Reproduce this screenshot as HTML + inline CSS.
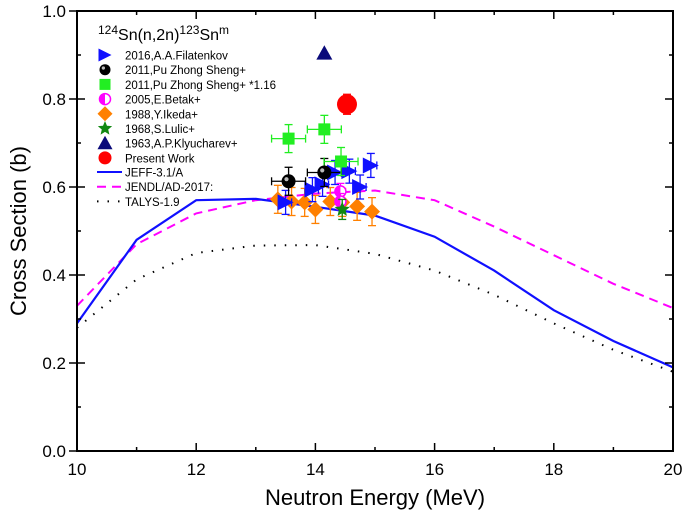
<!DOCTYPE html>
<html><head><meta charset="utf-8"><style>
html,body{margin:0;padding:0;background:#fff;}
svg{display:block;font-family:"Liberation Sans",Arial,sans-serif;}
</style></head><body>
<svg id="chart" width="685" height="517" viewBox="0 0 685 517"></svg>
<script>
const xTicks=[10,12,14,16,18,20];
const xMinor=[11,13,15,17,19];
const yTicks=[0.0,0.2,0.4,0.6,0.8,1.0];
const yMinor=[0.1,0.3,0.5,0.7,0.9];
const curveE=[10,11,12,13,14,15,16,17,18,19,20];
const jeffV=[0.29,0.48,0.57,0.573,0.555,0.535,0.487,0.41,0.32,0.25,0.19];
const jendlV=[0.33,0.47,0.54,0.57,0.585,0.592,0.57,0.51,0.445,0.38,0.325];
const talysV=[0.28,0.39,0.45,0.467,0.468,0.448,0.41,0.355,0.29,0.23,0.18];
const filE=[14.93,14.57,14.33,14.75,14.12,13.95,13.5];
const filV=[0.649,0.636,0.633,0.6,0.606,0.594,0.565];
const puE=[13.55,14.15];
const puV=[0.613,0.633];
const pu116E=[13.55,14.15,14.43];
const pu116V=[0.71,0.731,0.658];
const betE=[14.42,14.42];
const betV=[0.59,0.567];
const ikE=[13.37,13.6,13.82,14.0,14.25,14.45,14.7,14.95];
const ikV=[0.572,0.567,0.565,0.549,0.567,0.565,0.556,0.544];
const luE=[14.45];
const luV=[0.549];
const klE=[14.15];
const klV=[0.904];
const prE=[14.53];
const prV=[0.788];

const L=77,R=673,T=11,B=451;
const sx=e=>L+(e-10)/10*(R-L);
const sy=v=>B-v*(B-T);
const svg=document.getElementById('chart');
const NS='http://www.w3.org/2000/svg';
function mk(tag,attrs,parent){const el=document.createElementNS(NS,tag);for(const k in attrs)el.setAttribute(k,attrs[k]);(parent||svg).appendChild(el);return el;}

function curve(vals,color,dash,w,name){
  const p=mk('polyline',{points:curveE.map((e,i)=>sx(e)+','+sy(vals[i])).join(' '),fill:'none',stroke:color,'stroke-width':w,'stroke-dasharray':dash});
  
  
}
curve(talysV,'#000','1.5 9',2,'talys-curve');
curve(jendlV,'#ff00ff','9 6',2,'jendl-curve');
curve(jeffV,'#1010ff','',2.2,'jeff-curve');

function errbar(x,y,dy,dx,color){
  const g=mk('g',{stroke:color,'stroke-width':1.3});
  mk('line',{x1:x,y1:y-dy,x2:x,y2:y+dy},g);
  mk('line',{x1:x-4,y1:y-dy,x2:x+4,y2:y-dy},g);
  mk('line',{x1:x-4,y1:y+dy,x2:x+4,y2:y+dy},g);
  if(dx){mk('line',{x1:x-dx,y1:y,x2:x+dx,y2:y},g);
    mk('line',{x1:x-dx,y1:y-4,x2:x-dx,y2:y+4},g);
    mk('line',{x1:x+dx,y1:y-4,x2:x+dx,y2:y+4},g);}
}
function marker(type,x,y,color,s){
  let el;
  if(type==='tri-r')el=mk('polygon',{points:`${x-s},${y-s} ${x+s},${y} ${x-s},${y+s}`,fill:color});
  else if(type==='tri-u')el=mk('polygon',{points:`${x},${y-s} ${x+s},${y+s*0.8} ${x-s},${y+s*0.8}`,fill:color});
  else if(type==='sq')el=mk('rect',{x:x-s,y:y-s,width:2*s,height:2*s,fill:color});
  else if(type==='dia')el=mk('polygon',{points:`${x},${y-s} ${x+s},${y} ${x},${y+s} ${x-s},${y}`,fill:color});
  else if(type==='ball'){el=mk('circle',{cx:x,cy:y,r:s,fill:'#000'});mk('circle',{cx:x-s*0.3,cy:y-s*0.3,r:s*0.3,fill:'#bbb'});}
  else if(type==='half'){el=mk('circle',{cx:x,cy:y,r:s,fill:'#fff',stroke:'#ff00ff','stroke-width':1.5});mk('path',{d:`M${x},${y-s} A${s},${s} 0 0 0 ${x},${y+s} Z`,fill:'#ff00ff'});}
  else if(type==='star'){let pts=[];for(let i=0;i<10;i++){const r=i%2?s*0.45:s;const a=-Math.PI/2+i*Math.PI/5;pts.push((x+r*Math.cos(a))+','+(y+r*Math.sin(a)));}el=mk('polygon',{points:pts.join(' '),fill:color});}
  else el=mk('circle',{cx:x,cy:y,r:s,fill:color});
  return el;
}
function series(E,V,type,color,size,dy,dx,name){
  E.forEach((e,i)=>{
    const x=sx(e),y=sy(V[i]);
    errbar(x,y,dy,dx,color);
    const m=marker(type,x,y,color,size);
    
    
  });
}
series(ikE,ikV,'dia','#ff8000',8,14,0,'ikeda-point');
series(filE,filV,'tri-r','#1010ff',8,12,6,'filatenkov-point');
series(puE,puV,'ball','#000',7,14,17,'pu-zhong-sheng-point');
series(pu116E,pu116V,'sq','#22ee22',6,14,17,'pu-zhong-sheng-scaled-point');
series(betE,betV,'half','#ff00ff',5.5,8,0,'betak-point');
series(luE,luV,'star','#118811',8,10,0,'lulic-point');
series(klE,klV,'tri-u','#0a0a7a',8,0,0,'klyucharev-point');
series(prE,prV,'circ','#ff0000',10,10,6,'present-work-point');

const fr=mk('rect',{x:L,y:T,width:R-L,height:B-T,fill:'none',stroke:'#000','stroke-width':2});


xTicks.forEach(t=>{const x=sx(t);
  mk('line',{x1:x,y1:B,x2:x,y2:B-8,stroke:'#000','stroke-width':1.5});
  mk('line',{x1:x,y1:T,x2:x,y2:T+8,stroke:'#000','stroke-width':1.5});
  const tx=mk('text',{x:x,y:B+24,'font-size':17,'text-anchor':'middle'});tx.textContent=t;
  
  
});
xMinor.forEach(t=>{const x=sx(t);
  mk('line',{x1:x,y1:B,x2:x,y2:B-4,stroke:'#000','stroke-width':1.5});
  mk('line',{x1:x,y1:T,x2:x,y2:T+4,stroke:'#000','stroke-width':1.5});});
yTicks.forEach(t=>{const y=sy(t);
  mk('line',{x1:L-8,y1:y,x2:L+8,y2:y,stroke:'#000','stroke-width':1.5});
  mk('line',{x1:R,y1:y,x2:R-8,y2:y,stroke:'#000','stroke-width':1.5});
  const tx=mk('text',{x:L-11,y:y+6,'font-size':17,'text-anchor':'end'});tx.textContent=t.toFixed(1);
  
  
});
yMinor.forEach(t=>{const y=sy(t);
  mk('line',{x1:L,y1:y,x2:L+4,y2:y,stroke:'#000','stroke-width':1.5});
  mk('line',{x1:R,y1:y,x2:R-4,y2:y,stroke:'#000','stroke-width':1.5});});

const xt=mk('text',{x:375,y:505,'font-size':22,'text-anchor':'middle'});xt.textContent='Neutron Energy (MeV)';


const yt=mk('text',{x:0,y:0,'font-size':22,'text-anchor':'middle',transform:'translate(26,231) rotate(-90)'});yt.textContent='Cross Section (b)';



const lt=mk('text',{x:98,y:40,'font-size':16});
lt.innerHTML='<tspan font-size="12" dy="-6">124</tspan><tspan dy="6">Sn(n,2n)</tspan><tspan font-size="12" dy="-6">123</tspan><tspan dy="6">Sn</tspan><tspan font-size="12" dy="-6">m</tspan>';


const leg=[['tri-r','#1010ff','2016,A.A.Filatenkov'],['ball','#000','2011,Pu Zhong Sheng+'],['sq','#22ee22','2011,Pu Zhong Sheng+ *1.16'],['half','#ff00ff','2005,E.Betak+'],['dia','#ff8000','1988,Y.Ikeda+'],['star','#118811','1968,S.Lulic+'],['tri-u','#0a0a7a','1963,A.P.Klyucharev+'],['circ','#ff0000','Present Work']];
leg.forEach((l,i)=>{const y=55+i*14.7;
  const sz={'tri-r':6.5,'ball':5.5,'sq':5.5,'half':5.5,'dia':7.5,'star':7.5,'tri-u':7.5,'circ':6.5}[l[0]];
  marker(l[0],105,y,l[1],sz);
  const t=mk('text',{x:125,y:y+4.5,'font-size':11.5});t.textContent=l[2];
  
  
});
const ll=[['#1010ff','','JEFF-3.1/A'],['#ff00ff','9 6','JENDL/AD-2017:'],['#000','1.5 9','TALYS-1.9']];
ll.forEach((l,i)=>{const y=172+i*14.7;
  mk('line',{x1:97,y1:y,x2:122,y2:y,stroke:l[0],'stroke-width':2,'stroke-dasharray':l[1]});
  const t=mk('text',{x:125,y:y+4.5,'font-size':11.5});t.textContent=l[2];
  
  
});
</script>
</body></html>
